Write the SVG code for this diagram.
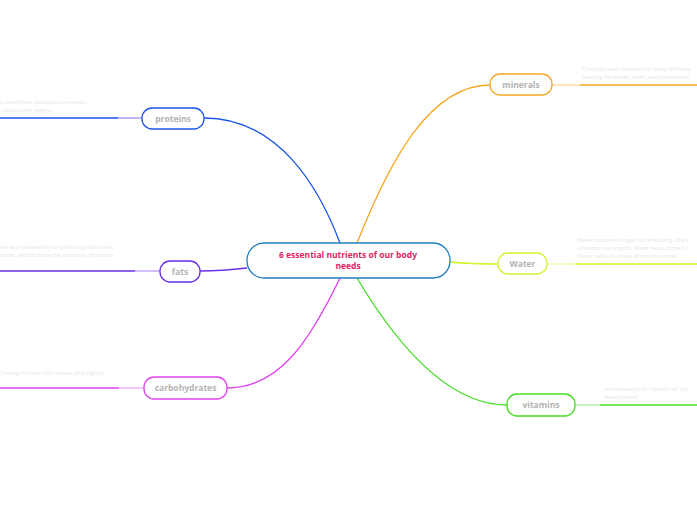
<svg xmlns="http://www.w3.org/2000/svg" width="697" height="520" viewBox="0 0 697 520">
<style>
.n{fill:#fff;stroke-width:1.3}
.l{font-family:"Open Sans","Liberation Sans",sans-serif;font-size:8.5px;font-weight:bold;fill:#b3b3b3;text-anchor:middle}
.d{font-family:"Open Sans","Liberation Sans",sans-serif;font-size:5.5px;fill:#e6e6e6}
.c{fill:none;stroke-width:1.3}
</style>
<rect width="697" height="520" fill="#fff"/>
<g id="connectors">
<path class="c" stroke="#1a55e8" d="M340,243 C320,190 280,118 204,118"/>
<path class="c" stroke="#9c8bf0" d="M118,118 H142"/><path class="c" stroke="#1a55e8" d="M0,118 H118"/>
<path class="c" stroke="#6a2ee8" d="M247,268 C230,270 215,271 200,271"/>
<path class="c" stroke="#b79cf5" d="M135,271 H160"/><path class="c" stroke="#6a2ee8" d="M0,271 H135"/>
<path class="c" stroke="#e040f0" d="M340,278 C310,340 280,388 227,388"/>
<path class="c" stroke="#f3a7f5" d="M119,388 H144"/><path class="c" stroke="#e040f0" d="M0,388 H119"/>
<path class="c" stroke="#f5a623" d="M357,243 C390,160 430,85 490,85"/>
<path class="c" stroke="#fad49a" d="M552,85 H580"/><path class="c" stroke="#f5a623" d="M580,85 H697"/>
<path class="c" stroke="#d7f02b" d="M450,262 C470,264 480,264 498,264"/>
<path class="c" stroke="#eef8a8" d="M547,264 H575"/><path class="c" stroke="#d7f02b" d="M575,264 H697"/>
<path class="c" stroke="#44dd22" d="M357,278 C400,350 450,405 507,405"/>
<path class="c" stroke="#a8ef98" d="M575,405 H600"/><path class="c" stroke="#44dd22" d="M600,405 H697"/>
</g>
<g id="center">
<rect x="247" y="243" width="203" height="35" rx="17" fill="#fff" stroke="#1e7fc0" stroke-width="1.3"/>
<text x="348" y="257.5" font-family="'Open Sans','Liberation Sans',sans-serif" font-size="8.5" font-weight="bold" fill="#e0245e" text-anchor="middle">6 essential nutrients of our body</text>
<text x="348" y="269" font-family="'Open Sans','Liberation Sans',sans-serif" font-size="8.5" font-weight="bold" fill="#e0245e" text-anchor="middle">needs</text>
</g>
<g id="proteins"><rect class="n" stroke="#1a55e8" x="142" y="108" width="62" height="21" rx="10"/><text class="l" x="173" y="121.5">proteins</text>
<text class="d" x="0" y="104">o coordinate biological processes</text><text class="d" x="0" y="112">, tissues and organs.</text></g>
<g id="fats"><rect class="n" stroke="#6a2ee8" x="160" y="261" width="40" height="21" rx="10"/><text class="l" x="180" y="274.5">fats</text>
<text class="d" x="0" y="249">rve as a framework for producing hormones</text><text class="d" x="0" y="257">ances, and facilitate the transport of various</text></g>
<g id="carbohydrates"><rect class="n" stroke="#e040f0" x="144" y="377" width="83" height="22" rx="10"/><text class="l" x="185.5" y="391">carbohydrates</text>
<text class="d" x="0" y="375">f energy for the cells, tissues and organs</text></g>
<g id="minerals"><rect class="n" stroke="#f5a623" x="490" y="74" width="62" height="21" rx="10"/><text class="l" x="521" y="87.5">minerals</text>
<text class="d" x="582" y="71">The body uses minerals for many different</text><text class="d" x="582" y="79">keeping the bones, heart, and brain worki</text></g>
<g id="water"><rect class="n" stroke="#d7f02b" x="498" y="253" width="49" height="21" rx="10"/><text class="l" x="522.5" y="266.5">Water</text>
<text class="d" x="577" y="242">Water moistens oxygen for breathing. Wate</text><text class="d" x="577" y="250">cushions vital organs. Water helps convert f</text><text class="d" x="577" y="258">Water helps the body absorb nutrients.</text></g>
<g id="vitamins"><rect class="n" stroke="#44dd22" x="507" y="394" width="68" height="22" rx="10"/><text class="l" x="541" y="408">vitamins</text>
<text class="d" x="604" y="391">are necessary for normal cell fun</text><text class="d" x="604" y="399">development</text></g>
</svg>
